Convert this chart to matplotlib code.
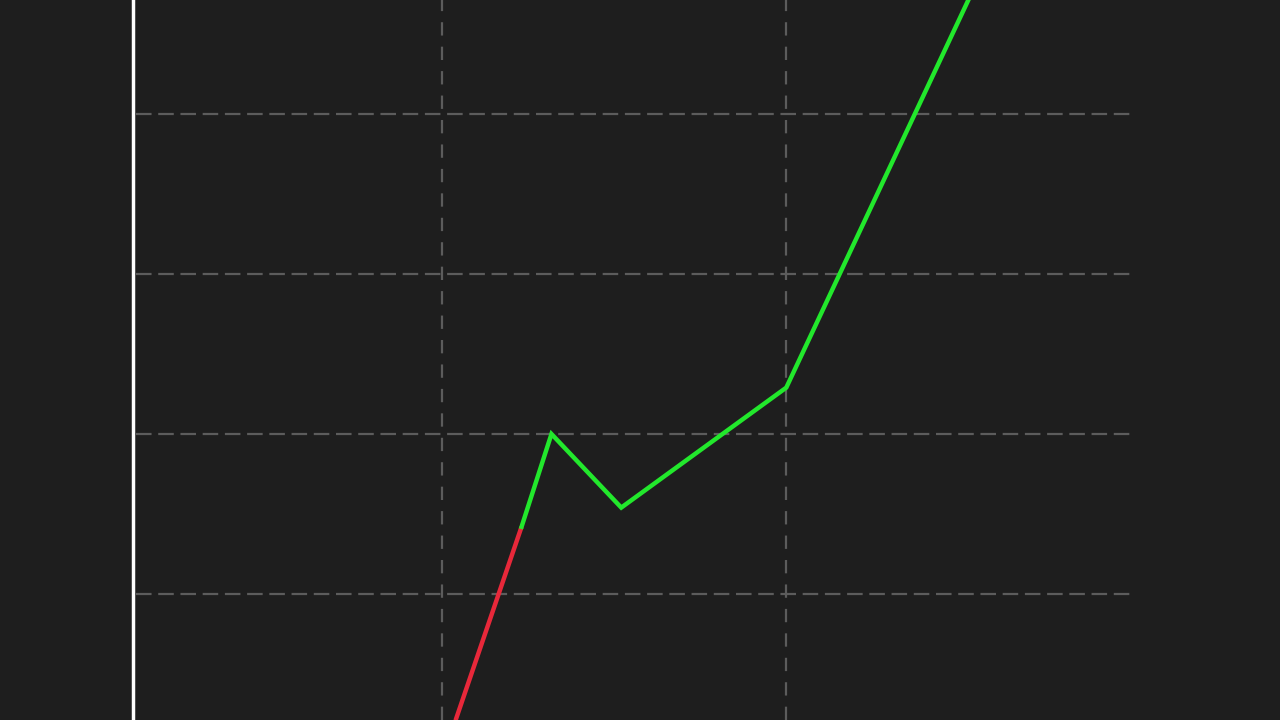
import matplotlib.pyplot as plt

# ── DATA ──────────────────────────────────────────────────
grid_prices = [100, 110, 120, 130]
grid_times = [10, 20]
red_t = [10.38, 12.30]
red_p = [92.1, 104.2]
green_t = [12.30, 13.17, 15.20, 20.00, 25.29]
green_p = [104.2, 110.0, 105.4, 112.9, 137.1]

BG = '#1e1e1e'
GRID = '#5c5c5c'

fig = plt.figure(figsize=(12.8, 7.2), dpi=100, facecolor=BG)
ax = fig.add_axes([0, 0, 1, 1])
ax.set_facecolor(BG)
ax.set_xlim(-2.87, 34.36)
ax.set_ylim(92.125, 137.125)
ax.axis('off')

for p in grid_prices:
    ax.plot([1.1, 30], [p, p], color=GRID, lw=1.6, ls=(0, (7, 3)), zorder=1)
for t in grid_times:
    ax.axvline(t, color=GRID, lw=1.6, ls=(0, (6, 5)), zorder=1)

ax.axvline(1.0, color='white', lw=2.5, zorder=2)

ax.plot(red_t, red_p, color='#e8283a', lw=3.2, solid_capstyle='butt', zorder=3)
ax.plot(green_t, green_p, color='#22e82c', lw=3.2, solid_joinstyle='miter', zorder=3)

plt.savefig('out.png', dpi=100, facecolor=BG)
